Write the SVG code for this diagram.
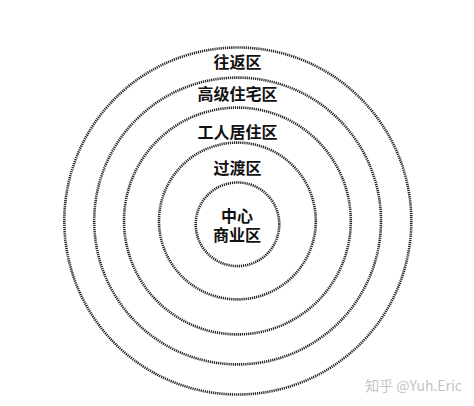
<svg xmlns="http://www.w3.org/2000/svg" width="474" height="406" viewBox="0 0 474 406">
<style>
.ring{fill:none;stroke:#222;stroke-width:2.6;stroke-dasharray:1.2 0.9}
.lbl{font-family:"Noto Sans CJK SC","Noto Sans",sans-serif;font-size:16px;font-weight:bold;fill:#111;text-anchor:middle}
.wm{font-family:"Noto Sans CJK SC","Noto Sans",sans-serif;font-size:14px;fill:#c4c4c4;text-anchor:end}
</style>
<rect width="474" height="406" fill="#fff"/>
<g id="ring-outer"><circle class="ring" cx="237.8" cy="221" r="173.5"/><text class="lbl" x="237.5" y="68">往返区</text></g>
<g id="ring-high"><circle class="ring" cx="237.6" cy="221" r="143.4"/><text class="lbl" x="237.5" y="100">高级住宅区</text></g>
<g id="ring-worker"><circle class="ring" cx="237.4" cy="221" r="113.4"/><text class="lbl" x="237.5" y="138">工人居住区</text></g>
<g id="ring-transition"><circle class="ring" cx="237.4" cy="221" r="78.4"/><text class="lbl" x="237.5" y="174">过渡区</text></g>
<g id="center"><circle class="ring" cx="237.5" cy="224.3" r="41.8"/><text class="lbl" x="237" y="222"><tspan x="237" y="222">中心</tspan><tspan x="237" y="241">商业区</tspan></text></g>
<g id="connectors"></g>
<text class="wm" x="462" y="391">知乎 @Yuh.Eric</text>
</svg>
